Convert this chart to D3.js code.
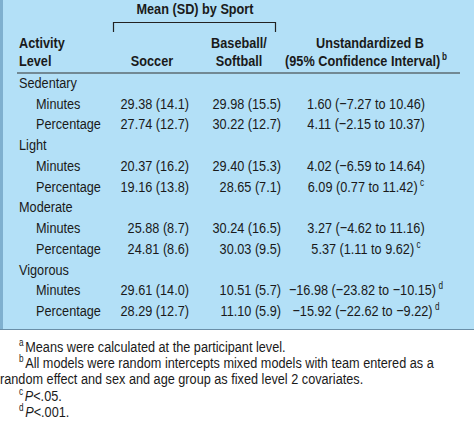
<!DOCTYPE html><html><head><meta charset="utf-8">
<script src="https://cdn.jsdelivr.net/npm/d3@7"></script>
<style>body{margin:0;background:#fff}text{font-family:"Liberation Sans",Arial,sans-serif;fill:#1a1a1a}</style></head><body>
<svg id="c" width="474" height="429"></svg>
<script>
const groups=["Sedentary","Light","Moderate","Vigorous"];
const measures=["Minutes","Percentage"];
const soccer=["29.38 (14.1)","27.74 (12.7)","20.37 (16.2)","19.16 (13.8)","25.88 (8.7)","24.81 (8.6)","29.61 (14.0)","28.29 (12.7)"];
const baseball=["29.98 (15.5)","30.22 (12.7)","29.40 (15.3)","28.65 (7.1)","30.24 (16.5)","30.03 (9.5)","10.51 (5.7)","11.10 (5.9)"];
const bvals=["1.60 (−7.27 to 10.46)","4.11 (−2.15 to 10.37)","4.02 (−6.59 to 14.64)","6.09 (0.77 to 11.42)","3.27 (−4.62 to 11.16)","5.37 (1.11 to 9.62)","−16.98 (−23.82 to −10.15)","−15.92 (−22.62 to −9.22)"];
const bsup=["","","","c","","c","d","d"];
const footnotes=[["a","Means were calculated at the participant level."],["b","All models were random intercepts mixed models with team entered as a"],["","random effect and sex and age group as fixed level 2 covariates."],["c","P<.05."],["d","P<.001."]];
const svg=d3.select("#c");
svg.append("rect").attr("width",474).attr("height",330).attr("fill","#b3e0f7");
svg.append("rect").attr("width",3).attr("height",330).attr("fill","#7fb0cf");
svg.append("line").attr("x1",0).attr("x2",474).attr("y1",329.5).attr("y2",329.5).attr("stroke","#6a8fa8");
svg.append("path").attr("d","M113.5,32V22.5H275.5V32").attr("fill","none").attr("stroke","#222").attr("stroke-width",1.2);
svg.append("line").attr("x1",17).attr("x2",460).attr("y1",73).attr("y2",73).attr("stroke","#333").attr("stroke-width",1.2);
const k=0.82, fs=15.5;
const G=svg.append("g").attr("transform",`scale(${k},1)`);
const t=(x,y,s,a,b)=>G.append("text").attr("x",x/k).attr("y",y).attr("text-anchor",a||"start").attr("font-size",fs).attr("font-weight",b?"bold":null).text(s);
t(195,14,"Mean (SD) by Sport","middle",1);
t(19,48,"Activity","start",1);t(19,66,"Level","start",1);
t(152,66,"Soccer","middle",1);
t(239,48,"Baseball/","middle",1);t(239,66,"Softball","middle",1);
t(370,48,"Unstandardized B","middle",1);
const h=t(366,66,"(95% Confidence Interval)","middle",1);
h.append("tspan").attr("font-size",10).attr("dy",-6).attr("dx",2).text("b");
const y=d3.scaleLinear().domain([0,11]).range([88,316]);
groups.forEach((g,gi)=>{
  t(19,y(gi*3),g);
  measures.forEach((m,mi)=>{
    const i=gi*2+mi, yy=y(gi*3+1+mi);
    t(36,yy,m);
    t(189,yy,soccer[i],"end");
    t(281,yy,baseball[i],"end");
    const tx=t(366,yy,bvals[i],"middle");
    if(bsup[i]) tx.append("tspan").attr("font-size",10).attr("dx",3).attr("dy",-6).text(bsup[i]);
  });
});
const fy=d3.scaleLinear().domain([0,4]).range([352,417]);
footnotes.forEach((f,i)=>{
  const tx=G.append("text").attr("x",(i==2?0:19)/k).attr("y",fy(i)).attr("font-size",fs);
  if(f[0]) tx.append("tspan").attr("font-size",10).attr("dy",-6).text(f[0]);
  const rest=tx.append("tspan").attr("dy",f[0]?6:0).attr("dx",f[0]?2:0);
  if(f[1].startsWith("P")){rest.append("tspan").attr("font-style","italic").text("P");rest.append("tspan").text(f[1].slice(1));}
  else rest.text(f[1]);
});
</script></body></html>
